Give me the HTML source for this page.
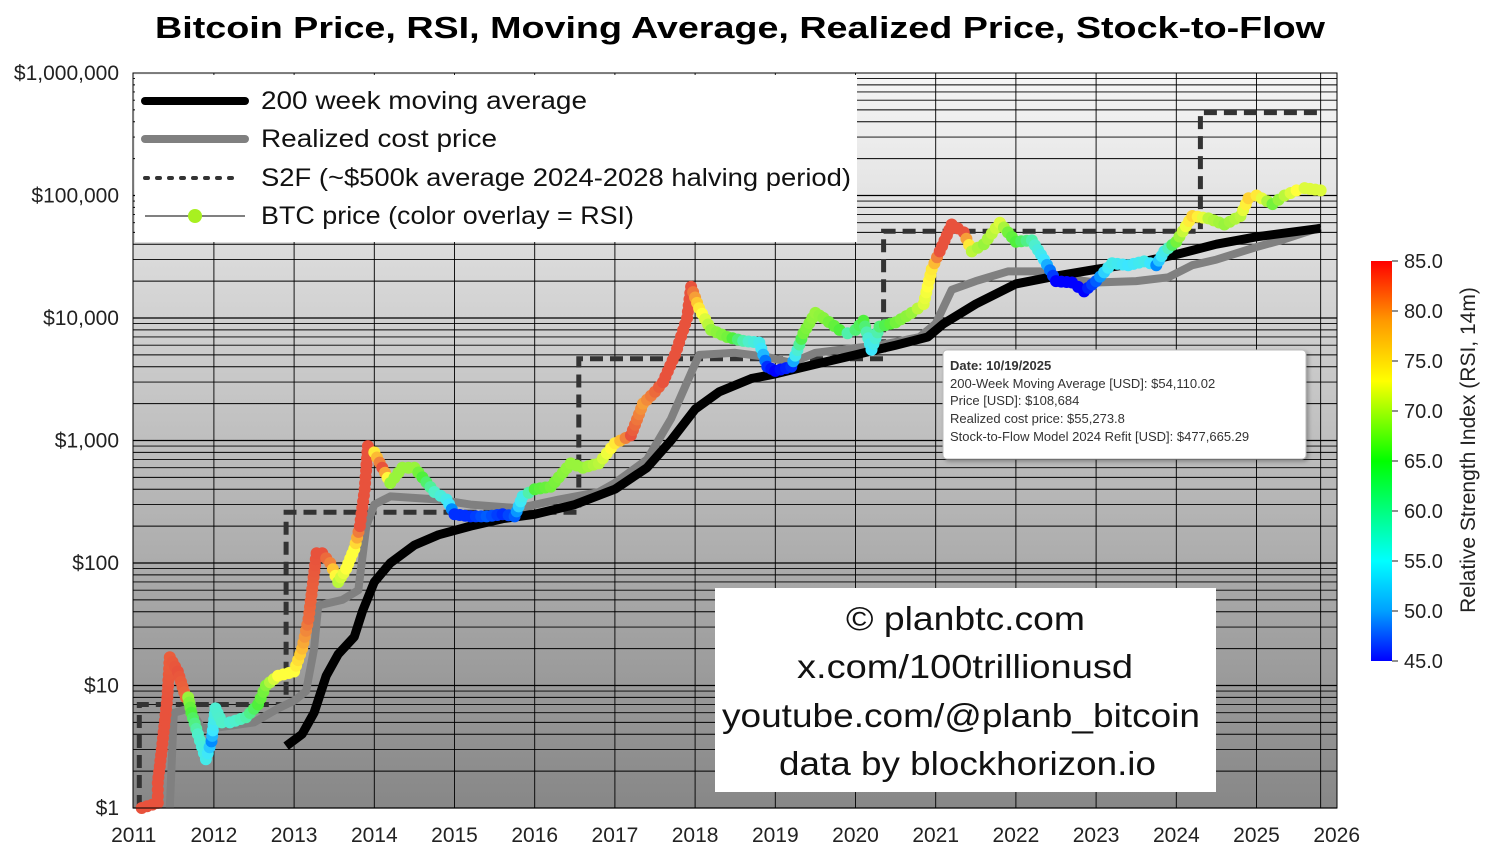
<!DOCTYPE html>
<html><head><meta charset="utf-8"><style>
html,body{margin:0;padding:0;background:#fff;width:1496px;height:863px;overflow:hidden}
svg{display:block}
text{font-family:"Liberation Sans",sans-serif}
</style></head><body>
<svg id="s" width="1496" height="863" xmlns="http://www.w3.org/2000/svg">
<defs>
<linearGradient id="bg" x1="0" y1="0" x2="0" y2="1">
<stop offset="0" stop-color="#f6f6f6"/><stop offset="1" stop-color="#878787"/></linearGradient>
<linearGradient id="cb" x1="0" y1="1" x2="0" y2="0">
<stop offset="0" stop-color="#0000ff"/><stop offset="0.125" stop-color="#00a0ff"/><stop offset="0.25" stop-color="#00ffff"/><stop offset="0.5" stop-color="#00ff00"/><stop offset="0.7" stop-color="#ffff00"/><stop offset="0.85" stop-color="#ff9900"/><stop offset="1" stop-color="#ff0000"/></linearGradient>
<filter id="sh"><feDropShadow dx="2" dy="2" stdDeviation="2" flood-opacity="0.3"/></filter>
</defs>
<text x="740" y="38" text-anchor="middle" font-size="31" font-weight="bold" textLength="1170" lengthAdjust="spacingAndGlyphs">Bitcoin Price, RSI, Moving Average, Realized Price, Stock-to-Flow</text>
<rect x="133" y="73" width="1204" height="735" fill="url(#bg)"/>
<g id="grid"></g>
<g id="series"></g>
<rect x="135" y="75" width="722" height="167" fill="#fff"/>
<line x1="145" y1="101" x2="245" y2="101" stroke="#000" stroke-width="8" stroke-linecap="round"/>
<line x1="145" y1="139" x2="245" y2="139" stroke="#808080" stroke-width="8" stroke-linecap="round"/>
<line x1="145" y1="178" x2="240" y2="178" stroke="#333" stroke-width="4" stroke-dasharray="3 9" stroke-linecap="round"/>
<line x1="145" y1="216" x2="245" y2="216" stroke="#000" stroke-width="1"/>
<circle cx="195" cy="216" r="7" fill="#a8f020"/>
<g font-size="25" fill="#111">
<text x="261" y="109" textLength="326" lengthAdjust="spacingAndGlyphs">200 week moving average</text>
<text x="261" y="147" textLength="236" lengthAdjust="spacingAndGlyphs">Realized cost price</text>
<text x="261" y="186" textLength="590" lengthAdjust="spacingAndGlyphs">S2F (~$500k average 2024-2028 halving period)</text>
<text x="261" y="224" textLength="373" lengthAdjust="spacingAndGlyphs">BTC price (color overlay = RSI)</text>
</g>
<rect x="133" y="73" width="1204" height="735" fill="none" stroke="#000" stroke-width="1"/>
<g font-size="21" fill="#222" text-anchor="end" id="ylab"></g>
<g font-size="21" fill="#222" text-anchor="middle" id="xlab"></g>
<rect x="943" y="350" width="363" height="109" rx="4" fill="#fff" stroke="#bbb" filter="url(#sh)"/>
<g font-size="13" fill="#333">
<text x="950" y="370" font-weight="bold">Date: 10/19/2025</text>
<text x="950" y="388">200-Week Moving Average [USD]: $54,110.02</text>
<text x="950" y="405">Price [USD]: $108,684</text>
<text x="950" y="423">Realized cost price: $55,273.8</text>
<text x="950" y="441">Stock-to-Flow Model 2024 Refit [USD]: $477,665.29</text>
</g>
<rect x="715" y="588" width="501" height="204" fill="#fff"/>
<g font-size="33" fill="#111">
<text x="846" y="630" textLength="239" lengthAdjust="spacingAndGlyphs">© planbtc.com</text>
<text x="797" y="678" textLength="336" lengthAdjust="spacingAndGlyphs">x.com/100trillionusd</text>
<text x="722" y="727" textLength="478" lengthAdjust="spacingAndGlyphs">youtube.com/@planb_bitcoin</text>
<text x="779" y="775" textLength="377" lengthAdjust="spacingAndGlyphs">data by blockhorizon.io</text>
</g>
<rect x="1371" y="261" width="21" height="400" fill="url(#cb)"/>
<g font-size="20" fill="#222" id="cbl"></g>
<text transform="translate(1475,450) rotate(-90)" font-size="21" fill="#222" text-anchor="middle">Relative Strength Index (RSI, 14m)</text>
</svg>
<script>
var NS="http://www.w3.org/2000/svg";
function X(t){return 133.7+(t-2011)*80.2}
function Y(v){return 808-Math.log10(v)*122.5}
function el(p,n,a,txt){var e=document.createElementNS(NS,n);for(var k in a)e.setAttribute(k,a[k]);if(txt)e.textContent=txt;document.getElementById(p).appendChild(e);return e}
for(var d=0;d<6;d++)for(var m=1;m<10;m++){var y=Y(m*Math.pow(10,d));el("grid","line",{x1:133,x2:1337,y1:y,y2:y,stroke:"#000","stroke-width":m==1?1.3:0.9});}
for(var yr=2012;yr<=2025;yr++)el("grid","line",{x1:X(yr),x2:X(yr),y1:73,y2:808,stroke:"#000","stroke-width":0.9});
el("grid","line",{x1:X(2025.8),x2:X(2025.8),y1:73,y2:808,stroke:"#000","stroke-width":0.9});
var yl=["$1","$10","$100","$1,000","$10,000","$100,000","$1,000,000"];
for(var i=0;i<7;i++)el("ylab","text",{x:119,y:Y(Math.pow(10,i))+7},yl[i]);
for(var yr=2011;yr<=2026;yr++)el("xlab","text",{x:X(yr),y:842},""+yr);
var cl=["45.0","50.0","55.0","60.0","65.0","70.0","75.0","80.0","85.0"];
for(var i=0;i<9;i++){var y=661-i*50;el("cbl","line",{x1:1392,x2:1398,y1:y,y2:y,stroke:"#222"});el("cbl","text",{x:1404,y:y+7},cl[i]);}
function path(pts,attrs){var d="";pts.forEach(function(p,i){d+=(i?"L":"M")+X(p[0]).toFixed(1)+","+Y(p[1]).toFixed(1)});attrs.d=d;attrs.fill="none";el("series","path",attrs)}
path([[2011.07,1],[2011.07,7],[2012.9,7],[2012.9,260],[2016.55,260],[2016.55,4650],[2020.35,4650],[2020.35,51000],[2024.3,51000],[2024.3,475000],[2025.8,475000]],{stroke:"#333","stroke-width":5,"stroke-dasharray":"13 7"});
var R=[[2011.45,1],[2011.5,6],[2011.7,6.5],[2011.85,4.5],[2012,4.5],[2012.5,5],[2012.8,6.5],[2013,7.5],[2013.15,9],[2013.25,20],[2013.3,45],[2013.6,50],[2013.8,60],[2013.9,200],[2014,300],[2014.2,350],[2014.8,330],[2015.2,300],[2015.8,280],[2016.3,330],[2016.8,380],[2017,450],[2017.4,700],[2017.7,1500],[2017.9,3000],[2018.05,5000],[2018.5,5200],[2018.9,4800],[2019.2,4300],[2019.5,5200],[2019.8,5500],[2020.3,6000],[2020.8,7000],[2021,9000],[2021.2,17000],[2021.5,20000],[2021.9,24000],[2022.3,24000],[2022.6,21000],[2023,19500],[2023.5,20000],[2023.9,21500],[2024.2,27000],[2024.5,30000],[2025,38000],[2025.3,43000],[2025.8,55000]];
path(R,{stroke:"#808080","stroke-width":8,"stroke-linejoin":"round"});
var M=[[2012.9,3.2],[2013.1,4],[2013.25,6],[2013.4,12],[2013.55,18],[2013.75,25],[2013.85,40],[2014,70],[2014.2,100],[2014.5,140],[2014.8,170],[2015.2,200],[2015.6,230],[2016,250],[2016.5,300],[2017,400],[2017.4,600],[2017.7,1000],[2018,1800],[2018.3,2500],[2018.7,3200],[2019,3500],[2019.5,4200],[2020,5000],[2020.5,6000],[2020.9,7000],[2021.1,9000],[2021.5,13000],[2022,19000],[2022.5,22000],[2023,25000],[2023.5,28000],[2024,33000],[2024.5,40000],[2025,46000],[2025.8,54000]];
path(M,{stroke:"#000","stroke-width":9,"stroke-linejoin":"round"});
var P=[[2011.1,1,84],[2011.3,1.1,84],[2011.3,1.6,84],[2011.35,3,84],[2011.42,8,84],[2011.45,17,83],[2011.55,13,84],[2011.65,8,82],[2011.68,8,64],[2011.72,6,60],[2011.8,4,55],[2011.9,2.5,52],[2011.97,3.5,48],[2012.02,6.5,54],[2012.1,5,55],[2012.2,5,54],[2012.4,5.5,56],[2012.55,7,60],[2012.65,10,63],[2012.8,12,70],[2013,13,70],[2013.1,20,76],[2013.18,35,82],[2013.28,120,84],[2013.35,120,84],[2013.45,100,80],[2013.55,70,66],[2013.65,90,70],[2013.75,130,70],[2013.82,200,84],[2013.88,400,84],[2013.92,900,84],[2014,800,72],[2014.1,600,84],[2014.2,450,64],[2014.35,600,64],[2014.5,600,64],[2014.6,500,60],[2014.75,380,55],[2014.9,330,52],[2015,250,46],[2015.2,240,46],[2015.4,240,47],[2015.6,250,46],[2015.75,240,47],[2015.85,350,52],[2016,400,60],[2016.2,420,62],[2016.45,650,64],[2016.6,600,64],[2016.8,650,66],[2017,950,72],[2017.2,1100,84],[2017.35,2000,78],[2017.5,2500,82],[2017.6,3000,84],[2017.75,5000,84],[2017.9,10000,84],[2017.95,18000,84],[2018.05,12000,72],[2018.2,8000,64],[2018.4,7000,62],[2018.6,6500,56],[2018.8,6300,52],[2018.9,4000,46],[2019,3700,45],[2019.2,4000,46],[2019.35,7500,62],[2019.5,11000,64],[2019.6,10000,63],[2019.8,8000,60],[2019.9,7500,56],[2020,8000,58],[2020.1,9500,60],[2020.2,5500,50],[2020.3,8500,58],[2020.5,9200,62],[2020.7,11000,64],[2020.85,13000,68],[2020.95,25000,72],[2021.05,35000,84],[2021.2,58000,84],[2021.35,50000,84],[2021.45,35000,66],[2021.6,40000,64],[2021.8,60000,68],[2021.9,50000,62],[2022,42000,60],[2022.2,43000,56],[2022.35,30000,50],[2022.5,20000,45],[2022.7,19500,45],[2022.85,16500,45],[2023,20000,47],[2023.2,28000,52],[2023.4,27000,50],[2023.6,29000,52],[2023.75,27000,48],[2023.85,35000,52],[2024,42000,62],[2024.2,68000,74],[2024.4,65000,66],[2024.6,58000,64],[2024.8,68000,66],[2024.9,95000,74],[2025,100000,72],[2025.2,85000,62],[2025.35,100000,66],[2025.5,110000,70],[2025.6,115000,68],[2025.8,110000,68]];
function col(r){var s=[[45,[0,0,255]],[48,[0,140,255]],[50,[60,230,255]],[55,[80,240,200]],[60,[80,240,60]],[65,[170,245,60]],[70,[255,255,60]],[75,[255,200,50]],[80,[240,130,60]],[85,[230,70,60]]];
for(var i=1;i<s.length;i++)if(r<=s[i][0]){var f=(r-s[i-1][0])/(s[i][0]-s[i-1][0]);var a=s[i-1][1],b=s[i][1];return "rgb("+[0,1,2].map(function(k){return Math.round(a[k]+(b[k]-a[k])*f)}).join(",")+")"}return "rgb(230,70,60)"}
for(var i=0;i<P.length-1;i++){var a=P[i],b=P[i+1];var dx=X(b[0])-X(a[0]),dy=Y(b[1])-Y(a[1]);var n=Math.max(1,Math.round(Math.hypot(dx,dy)/6));
for(var k=0;k<n;k++){var f=k/n;var t=a[0]+(b[0]-a[0])*f;var lv=Math.log10(a[1])+(Math.log10(b[1])-Math.log10(a[1]))*f;var r=a[2]+(b[2]-a[2])*f;
el("series","circle",{cx:X(t).toFixed(1),cy:Y(Math.pow(10,lv)).toFixed(1),r:6,fill:col(r)});}}
var L=P[P.length-1];el("series","circle",{cx:X(L[0]),cy:Y(L[1]),r:6,fill:col(L[2])});
</script>
</body></html>
